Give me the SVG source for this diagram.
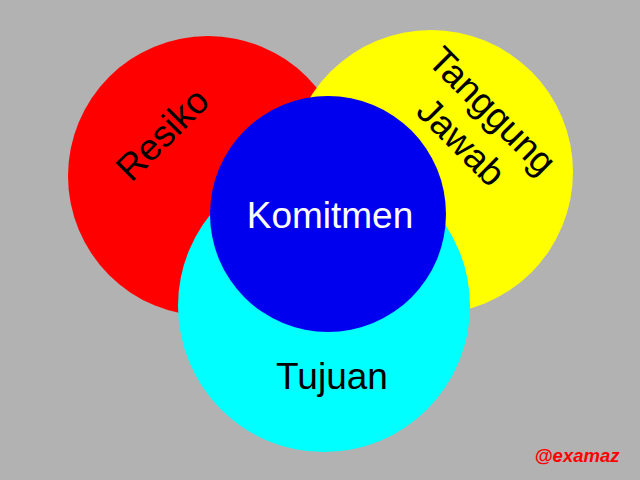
<svg xmlns="http://www.w3.org/2000/svg" width="640" height="480" viewBox="0 0 640 480">
<style>
.t{font-family:"Liberation Sans",Arial,sans-serif;font-size:37px;text-anchor:middle}
</style>
<rect width="640" height="480" fill="#b2b2b2"/>
<g id="resiko"><circle cx="208" cy="176" r="140" fill="#ff0000"/></g>
<g id="tanggung-jawab"><circle cx="431" cy="172" r="142" fill="#ffff00"/></g>
<g id="tujuan"><circle cx="324" cy="306" r="146" fill="#00ffff"/></g>
<g id="komitmen"><circle cx="328" cy="214" r="118" fill="#0000ee"/></g>
<g id="labels">
<text class="t" transform="translate(162,134) rotate(-45)" y="13" fill="#000">Resiko</text>
<g transform="translate(477,126) rotate(45)">
<text class="t" y="-9" fill="#000">Tanggung</text>
<text class="t" y="35" fill="#000">Jawab</text>
</g>
<text class="t" x="330" y="228" fill="#fff">Komitmen</text>
<text class="t" x="332" y="389" fill="#000">Tujuan</text>
<text x="577" y="462" font-family="Liberation Sans,Arial,sans-serif" font-size="18.5" font-weight="bold" font-style="italic" fill="#ff0000" text-anchor="middle">@examaz</text>
</g>
</svg>
